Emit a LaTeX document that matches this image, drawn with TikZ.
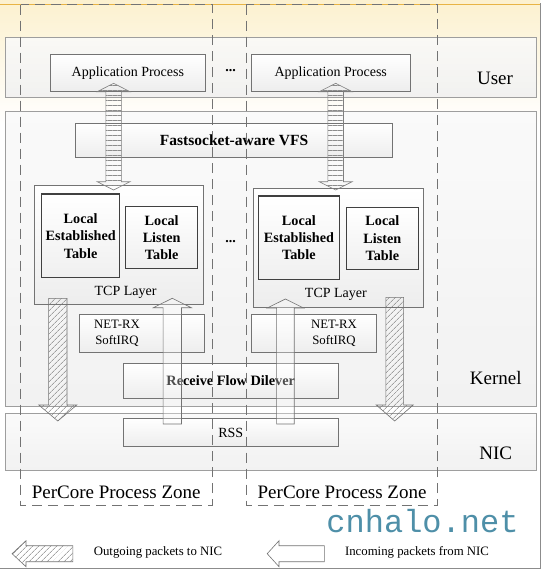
\documentclass[tikz,border=0pt]{standalone}
\usepackage{fontspec}
\setmainfont{Liberation Serif}
\newfontfamily\wmfont{Liberation Mono}
\usetikzlibrary{patterns.meta}
\definecolor{wm}{HTML}{4E8FA8}
\definecolor{goldline}{HTML}{E8B445}
\definecolor{tint}{HTML}{FCF1CF}
\newcommand{\MyDbl}[8]{\path[#1] (#2,#5) -- ({#2+#4},#6) -- ({#2+#3},#6) -- ({#2+#3},#7) -- ({#2+#4},#7) -- (#2,#8) -- ({#2-#4},#7) -- ({#2-#3},#7) -- ({#2-#3},#6) -- ({#2-#4},#6) -- cycle;}
\newcommand{\MyUp}[7]{\path[#1] (#2,#5) -- ({#2+#4},#6) -- ({#2+#3},#6) -- ({#2+#3},#7) -- ({#2-#3},#7) -- ({#2-#3},#6) -- ({#2-#4},#6) -- cycle;}
\newcommand{\MyDn}[7]{\path[#1] ({#2-#3},#5) -- ({#2+#3},#5) -- ({#2+#3},#6) -- ({#2+#4},#6) -- (#2,#7) -- ({#2-#4},#6) -- ({#2-#3},#6) -- cycle;}
\newcommand{\MyLt}[7]{\path[#1] (#5,#2) -- (#6,{#2-#4}) -- (#6,{#2-#3}) -- (#7,{#2-#3}) -- (#7,{#2+#3}) -- (#6,{#2+#3}) -- (#6,{#2+#4}) -- cycle;}
\begin{document}
\begin{tikzpicture}[x=1pt,y=-1pt,
  band/.style={draw=black!38, line width=0.7pt, top color=black!2, bottom color=black!6, fill opacity=0.85, inner sep=0pt},
  box/.style={draw=black!55, line width=0.7pt, top color=white, bottom color=black!7, inner sep=0pt, font=\fontsize{14}{16}\selectfont},
  bbox/.style={box, font=\bfseries\fontsize{14.3}{17}\selectfont},
  tbl/.style={draw=black!75, line width=1.1pt, top color=white, bottom color=black!6, inner sep=0pt, align=center, font=\bfseries\fontsize{14.2}{17.3}\selectfont},
  zone/.style={draw=black!55, line width=0.9pt, dash pattern=on 10pt off 6pt},
  lbl/.style={font=\fontsize{14}{16}\selectfont, inner sep=0pt},
  small/.style={font=\fontsize{12.8}{15.3}\selectfont, inner sep=0pt, align=center},
  region/.style={font=\fontsize{19}{22}\selectfont, inner sep=0pt},
  stripes/.style={draw=black!50, line width=0.6pt, pattern={Lines[angle=0,distance=5pt,line width=0.5pt]}, pattern color=black!45},
  hatch/.style={draw=black!55, line width=0.6pt, pattern={Lines[angle=45,distance=4pt,line width=0.5pt]}, pattern color=black!55},
  hollow/.style={draw=black!55, line width=0.6pt, fill=white, fill opacity=0.3}
]
\useasboundingbox (0,0) rectangle (544,570);
% background
\fill[white] (0,0) rectangle (544,570);
\shade[top color=tint, bottom color=white] (0,0) rectangle (540,125);
\draw[goldline, line width=1.3pt] (0,4.5) -- (540,4.5);
\draw[black!45, line width=1pt] (540.5,3) -- (540.5,568.5) -- (0,568.5);
% bands
\node[band, minimum width=530.9pt, minimum height=60pt] (user) at (270.65,67.7) {};
\node[band, minimum width=530.9pt, minimum height=295.7pt] (kernel) at (270.65,258.85) {};
\node[band, minimum width=530.9pt, minimum height=57.4pt] (nic) at (270.65,442) {};
% boxes
\node[box, minimum width=155.1pt, minimum height=37.4pt] (app1) at (127.85,73) {Application Process};
\node[box, minimum width=159.6pt, minimum height=37.4pt] (app2) at (330.7,73) {Application Process};
\node[bbox, font=\bfseries\fontsize{15.5}{18}\selectfont, minimum width=317.5pt, minimum height=34pt] (vfs) at (234.05,140.3) {Fastsocket-aware VFS};
\node[box, minimum width=169.7pt, minimum height=119.3pt] (tcp1) at (118.85,244.65) {};
\node[box, minimum width=170pt, minimum height=119pt] (tcp2) at (338.3,247.8) {};
\node[tbl, minimum width=78.1pt, minimum height=83.7pt] (est1) at (80.65,235.85) {Local\\Established\\Table};
\node[tbl, minimum width=72.2pt, minimum height=61.6pt] (lis1) at (161.7,237.5) {Local\\Listen\\Table};
\node[tbl, minimum width=80.8pt, minimum height=83.3pt] (est2) at (298.9,237.65) {Local\\Established\\Table};
\node[tbl, minimum width=72.2pt, minimum height=62pt] (lis2) at (382.4,238.3) {Local\\Listen\\Table};
\node[box, minimum width=124.5pt, minimum height=38pt] (netrx1) at (141.75,333.3) {};
\node[box, minimum width=125.3pt, minimum height=38pt] (netrx2) at (313.85,333.3) {};
\node[bbox, minimum width=215.1pt, minimum height=35pt] (rfd) at (230.75,380.8) {Receive Flow Dilever};
\node[box, minimum width=215.1pt, minimum height=28.4pt] (rss) at (230.75,432.5) {RSS};
% zones
\draw[zone] (20.8,4.5) rectangle (212.4,505);
\draw[zone] (246.4,4.5) rectangle (437.9,505);
% arrows
\MyDbl{stripes}{113.6}{7.8}{16.5}{83.3}{91.7}{181.7}{190}
\MyDbl{stripes}{335.7}{7.8}{16.5}{83.3}{91.7}{181.7}{190}
\MyUp{hollow}{172.3}{9.2}{19}{298.3}{307.7}{424}
\MyUp{hollow}{285.4}{8.85}{18.2}{299}{308}{424}
\MyDn{hatch}{57.8}{9.2}{19}{298.3}{405}{421}
\MyDn{hatch}{394.7}{8.85}{18.5}{297.3}{405}{421}
% texts
\node[lbl, font=\bfseries\fontsize{14}{16}\selectfont] (dots1) at (230.7,71) {...};
\node[lbl, font=\bfseries\fontsize{14}{16}\selectfont] (dots2) at (230.7,242) {...};
\node[lbl] (tcpl1) at (125.6,292.7) {TCP Layer};
\node[lbl] (tcpl2) at (335.9,294.7) {TCP Layer};
\node[small] (nr1) at (117,333.3) {NET-RX\\SoftIRQ};
\node[small] (nr2) at (334,333.3) {NET-RX\\SoftIRQ};
\node[region] (luser) at (495,78) {User};
\node[region] (lkernel) at (495.7,378.3) {Kernel};
\node[region] (lnic) at (495.8,453.3) {NIC};
\node[region] (z1) at (116.2,492.7) {PerCore Process Zone};
\node[region] (z2) at (342.1,492.7) {PerCore Process Zone};
\node[anchor=base, inner sep=0pt, text=wm, font=\wmfont\fontsize{32}{36}\selectfont] (wmark) at (422.5,532) {cnhalo.net};
% legend
\MyLt{hatch}{553.7}{8}{13}{12.1}{26}{72.9}
\MyLt{hollow}{553.7}{8}{13}{267.2}{279}{324.4}
\node[small] (leg1) at (158,552.7) {Outgoing packets to NIC};
\node[small] (leg2) at (417,552.7) {Incoming packets from NIC};
\end{tikzpicture}
\end{document}
